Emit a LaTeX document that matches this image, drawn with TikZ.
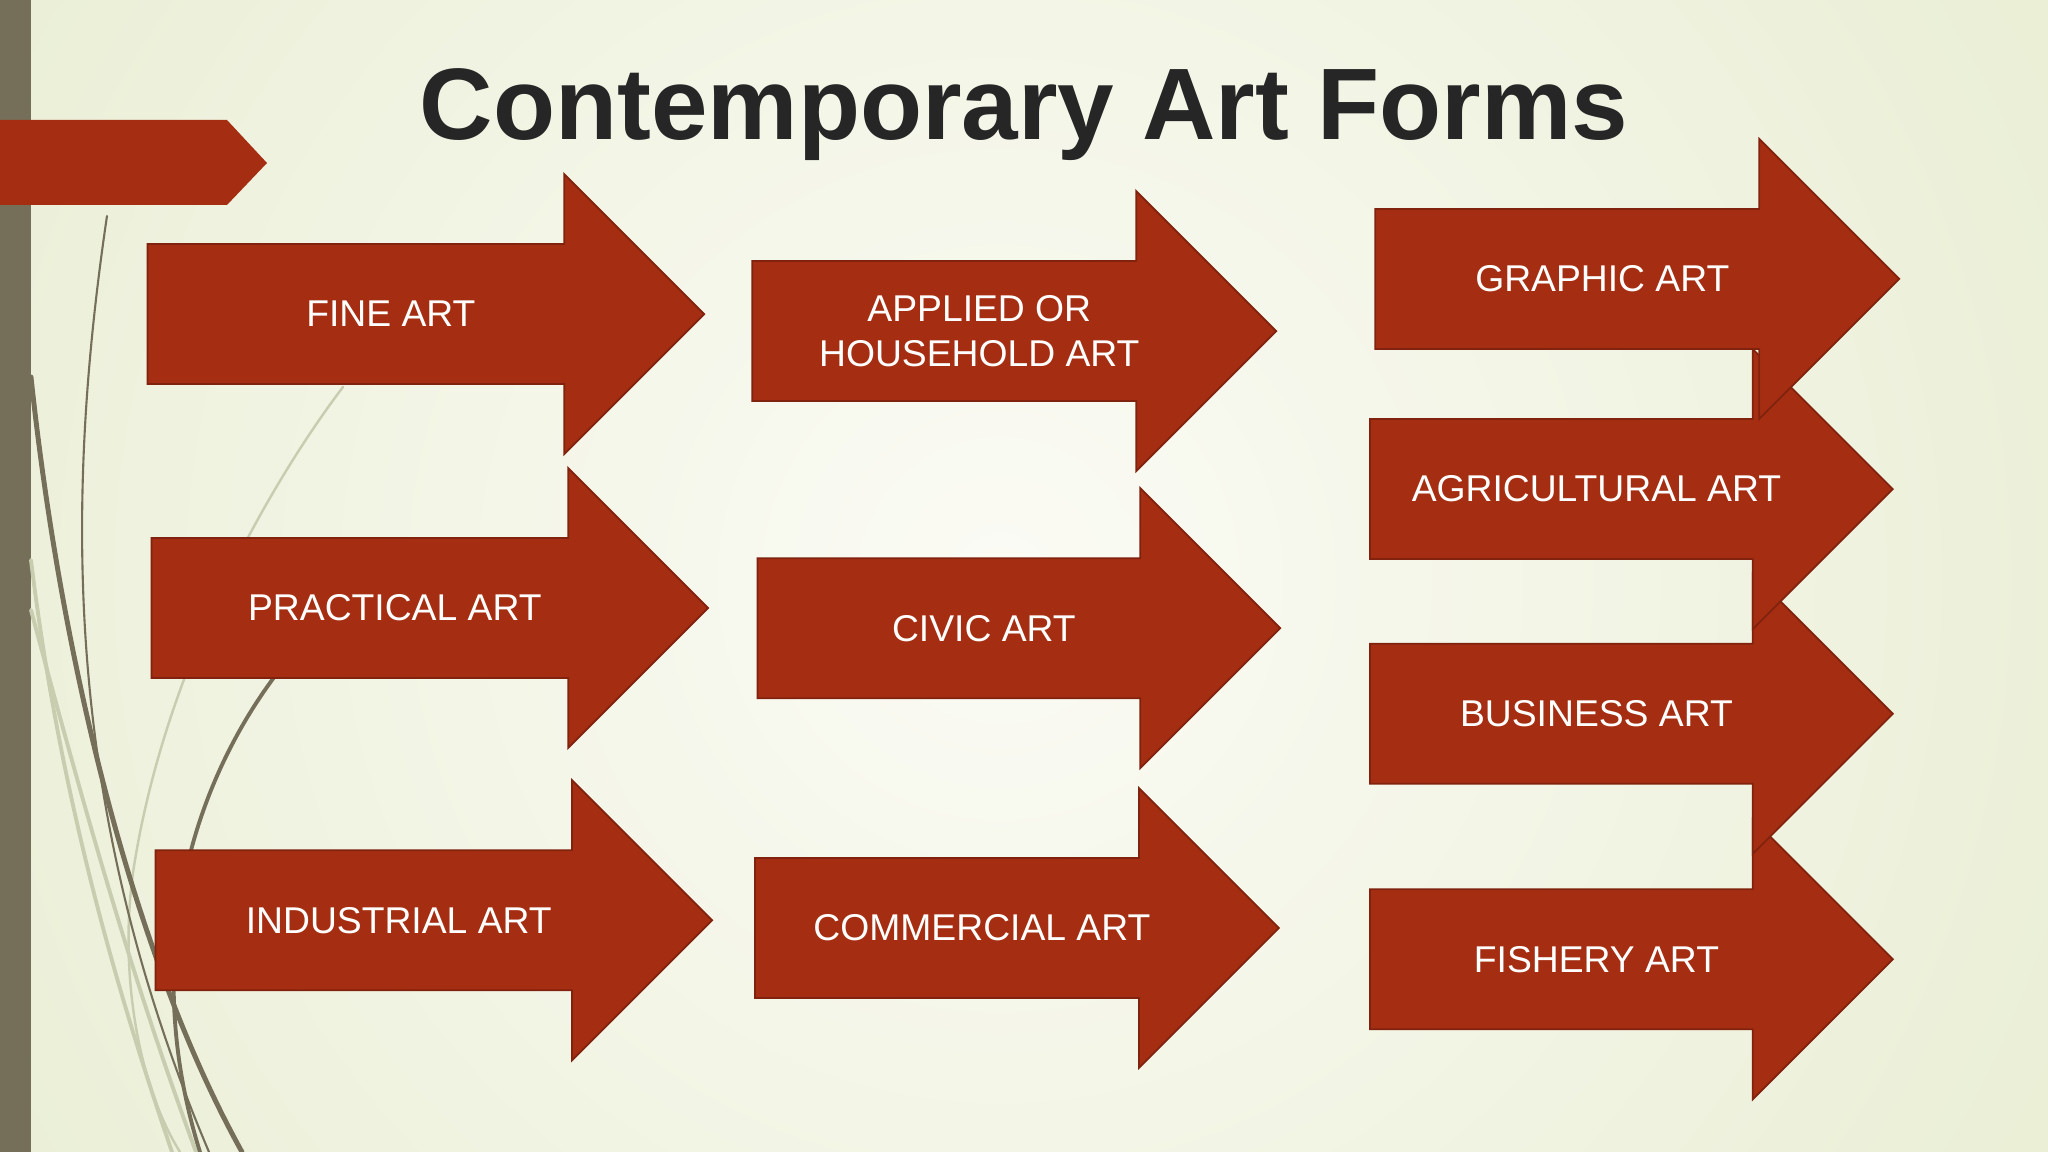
\documentclass[tikz,border=0pt]{standalone}
\usepackage{fontspec}
\setmainfont{Liberation Sans}
\definecolor{artred}{RGB}{165,46,18}
\definecolor{artredline}{RGB}{128,34,14}
\definecolor{barcol}{RGB}{117,111,90}
\definecolor{bgin}{RGB}{251,251,245}
\definecolor{bgout}{RGB}{218,227,184}
\definecolor{curvedark}{RGB}{117,111,90}
\definecolor{curvelight}{RGB}{200,205,176}
\definecolor{titlecol}{RGB}{38,38,38}
\tikzset{
  arrowshape/.style={fill=artred, draw=artredline, line width=0.5pt, line join=miter},
  arrowlabel/.style={text=white, font=\fontsize{10.6}{13}\selectfont, align=center, inner sep=0pt},
  darkcurve/.style={draw=curvedark, line cap=round},
  lightcurve/.style={draw=curvelight, line cap=round},
}
\newcommand{\artarrow}[5]{%
  \filldraw[arrowshape] (#1,#2-70) -- (#3,#2-70) -- (#3,#2-140) -- (#3+140,#2)
    -- (#3,#2+140) -- (#3,#2+70) -- (#1,#2+70) -- cycle;
  \node[arrowlabel] (#4) at ({(#1+#3)/2+35},#2) {#5};
}
\begin{document}
\begin{tikzpicture}[x=0.01cm,y=-0.01cm]
\useasboundingbox (0,0) rectangle (2048,1152);
% background
\begin{scope}
  \clip (0,0) rectangle (2048,1152);
  \shade[inner color=bgin, outer color=bgout] (1000,580) circle [radius=23cm];
\end{scope}
% left bar
\fill[barcol] (0,0) rectangle (31,1152);
% decorative curves
\draw[lightcurve, line width=0.7pt] (343,387) .. controls (280,470) and (170,650) .. (135,860)
  .. controls (118,960) and (135,1080) .. (180,1152);
\draw[lightcurve, line width=1.1pt] (31,560) .. controls (60,800) and (120,1000) .. (172,1152);
\draw[lightcurve, line width=1.1pt] (31,610) .. controls (95,850) and (140,1000) .. (196,1152);
\draw[darkcurve, line width=0.6pt] (107,216) .. controls (62,520) and (68,820) .. (209,1152);
\draw[darkcurve, line width=1.4pt] (31,377) .. controls (60,650) and (130,950) .. (242,1152);
\draw[darkcurve, line width=1.1pt] (275,676) .. controls (190,790) and (140,960) .. (200,1152);
% tab
\fill[artred] (0,120) -- (227,120) -- (267,163) -- (227,205) -- (0,205) -- cycle;
% title
\node[anchor=base, text=titlecol, font=\fontsize{28.9}{34}\selectfont\bfseries] (title) at (1024,140) {Contemporary Art Forms};
% arrows
\artarrow{147.6}{314.1}{564.2}{fine}{FINE ART}
\artarrow{151.5}{608.0}{568.2}{practical}{PRACTICAL ART}
\artarrow{155.4}{920.2}{572.1}{industrial}{INDUSTRIAL ART}
\artarrow{752.3}{331.1}{1136.3}{applied}{APPLIED OR\\HOUSEHOLD ART}
\artarrow{757.5}{628.2}{1140.2}{civic}{CIVIC ART}
\artarrow{754.9}{928.0}{1138.9}{commercial}{COMMERCIAL ART}
\artarrow{1370.1}{959.3}{1752.8}{fishery}{FISHERY ART}
\artarrow{1370.1}{713.8}{1752.8}{business}{BUSINESS ART}
\artarrow{1370.1}{489.1}{1752.8}{agricultural}{AGRICULTURAL ART}
\artarrow{1375.3}{278.9}{1759.3}{graphic}{GRAPHIC ART}
\end{tikzpicture}
\end{document}
